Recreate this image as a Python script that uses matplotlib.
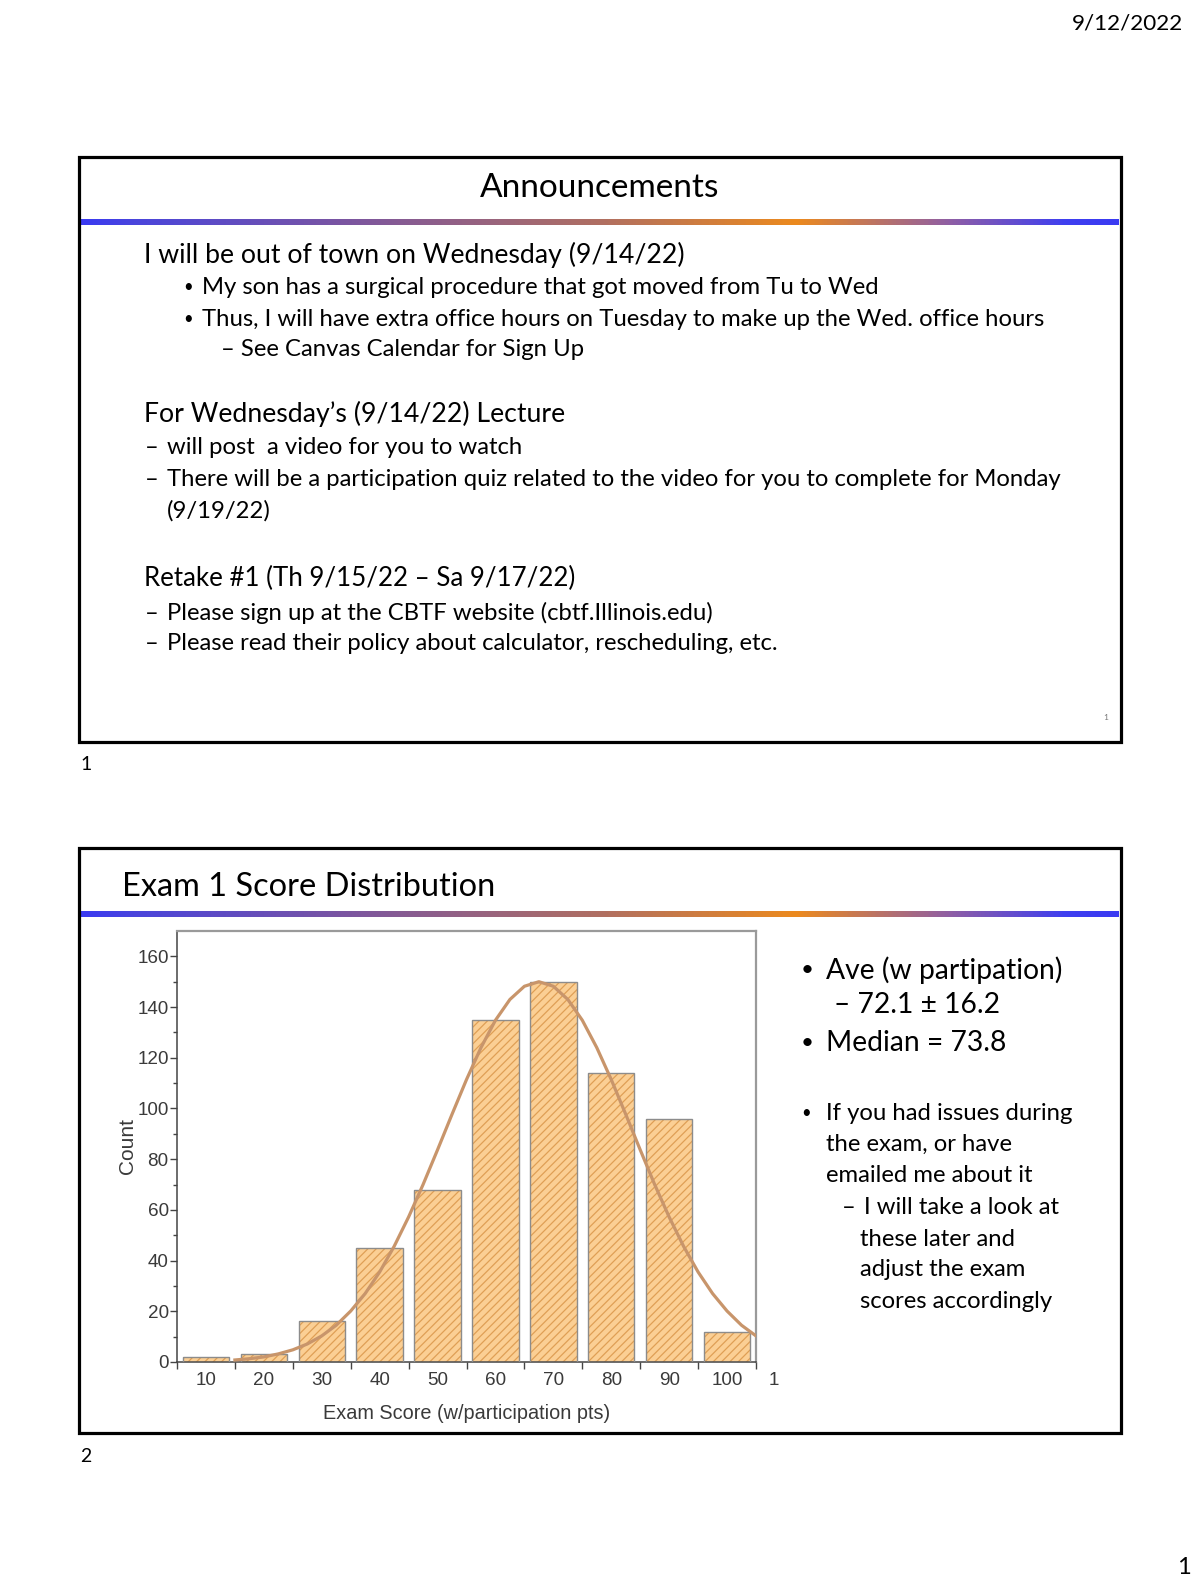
import matplotlib.pyplot as plt
import matplotlib.patches as patches
from matplotlib.colors import LinearSegmentedColormap
import numpy as np

# histogram
score_bins = [10, 20, 30, 40, 50, 60, 70, 80, 90, 100]
counts = [2, 3, 16, 45, 68, 135, 150, 114, 96, 12]

# fitted distribution curve, read every 2.5 pts
fit_x = [15, 17.5, 20, 22.5, 25, 27.5, 30, 32.5, 35, 37.5, 40, 42.5, 45, 47.5,
         50, 52.5, 55, 57.5, 60, 62.5, 65, 67.5, 70, 72.5, 75, 77.5, 80, 82.5,
         85, 87.5, 90, 92.5, 95, 97.5, 100, 102.5, 105]
fit_y = [0.8, 1.3, 2.0, 3.2, 4.8, 7.1, 10.3, 14.5, 20.1, 27.0, 35.5, 45.6, 57.2, 70.0,
         83.7, 97.7, 111.4, 124.0, 134.8, 143.0, 148.2, 150.0, 148.2, 143.0, 134.8, 124.0,
         111.4, 97.7, 83.7, 70.0, 57.2, 45.6, 35.5, 27.0, 20.1, 14.5, 10.3]

y_ticks = [0, 20, 40, 60, 80, 100, 120, 140, 160]

W, H = 1200, 1591
fig = plt.figure(figsize=(12, 15.91), dpi=100)
fig.patch.set_facecolor('white')


def fx(x):
    return x / W


def fy(y):
    return 1 - y / H


def txt(x, y, s, size, ha='left', color='black', family='Lato'):
    fig.text(fx(x), fy(y), s, fontsize=size, ha=ha, va='center',
             color=color, family=family)


def slide_box(x0, y0, x1, y1):
    fig.patches.append(patches.Rectangle((fx(x0), fy(y1)), fx(x1 - x0), (y1 - y0) / H,
                                         transform=fig.transFigure, fill=False,
                                         lw=2.3, ec='black'))


grad = LinearSegmentedColormap.from_list('bar', [
    (0.0, '#3a3af2'), (0.05, '#4a45dc'), (0.25, '#7a55a2'), (0.5, '#b06f62'),
    (0.69, '#ec8a1e'), (0.84, '#8e5ea6'), (0.95, '#3f3ff0'), (1.0, '#3a3af2')])


def grad_bar(x0, x1, y, h=6):
    gax = fig.add_axes([fx(x0), fy(y + h / 2), (x1 - x0) / W, h / H])
    gax.imshow(np.linspace(0, 1, 512)[None, :], aspect='auto', cmap=grad)
    gax.axis('off')


BODY = 17.2
HEAD = 19.2

txt(1183, 24, '9/12/2022', 16.2, ha='right')

# ---- slide 1
slide_box(79, 157, 1121, 742)
txt(600, 188, 'Announcements', 24, ha='center')
grad_bar(81, 1119, 222)

txt(144, 255, 'I will be out of town on Wednesday (9/14/22)', HEAD)
txt(183, 287, '•', 12)
txt(202, 287, 'My son has a surgical procedure that got moved from Tu to Wed', BODY)
txt(183, 319, '•', 12)
txt(202, 319, 'Thus, I will have extra office hours on Tuesday to make up the Wed. office hours', BODY)
txt(221, 350, '– See Canvas Calendar for Sign Up', BODY)

txt(144, 414, 'For Wednesday’s (9/14/22) Lecture', HEAD)
txt(145, 448, '–', BODY)
txt(167, 448, 'will post  a video for you to watch', BODY)
txt(145, 480, '–', BODY)
txt(167, 480, 'There will be a participation quiz related to the video for you to complete for Monday', BODY)
txt(167, 511, '(9/19/22)', BODY)

txt(144, 578, 'Retake #1 (Th 9/15/22 – Sa 9/17/22)', 18.6)
txt(145, 613, '–', BODY)
txt(167, 613, 'Please sign up at the CBTF website (cbtf.Illinois.edu)', BODY)
txt(145, 644, '–', BODY)
txt(167, 644, 'Please read their policy about calculator, rescheduling, etc.', BODY)
txt(1106, 717, '1', 6, ha='center', color='#777777')
txt(80, 765, '1', 14)

# ---- slide 2
slide_box(79, 848, 1121, 1433)
txt(122, 887, 'Exam 1 Score Distribution', 23.4)
grad_bar(81, 1119, 914)

txt(801, 970, '•', 16)
txt(826, 970, 'Ave (w partipation)', 20.3)
txt(834, 1005, '– 72.1 ± 16.2', 20.3)
txt(801, 1043, '•', 16)
txt(826, 1043, 'Median = 73.8', 20.3)
txt(801, 1113, '•', 12)
txt(826, 1113, 'If you had issues during', BODY)
txt(826, 1144, 'the exam, or have', BODY)
txt(826, 1176, 'emailed me about it', BODY)
txt(842, 1207, '–', BODY)
txt(864, 1207, 'I will take a look at', BODY)
txt(860, 1239, 'these later and', BODY)
txt(860, 1270, 'adjust the exam', BODY)
txt(860, 1301, 'scores accordingly', BODY)
txt(80, 1457, '2', 14)
txt(1177, 1568, '1', 17)

# ---- histogram
ax = fig.add_axes([fx(177), fy(1362), (756 - 177) / W, (1362 - 931) / H])
plt.rcParams['hatch.linewidth'] = 0.9
ax.bar(score_bins, counts, width=8, color='#fbcf94', edgecolor='#df9f55',
       hatch='////', lw=0, zorder=2)
ax.bar(score_bins, counts, width=8, fill=False, edgecolor='#8c8c8c', lw=1.0, zorder=3)
ax.plot(fit_x, fit_y, color='#c8956b', lw=2.3, zorder=4)

tick_col = '#3a3a3a'
ax.set_xlim(5, 105)
ax.set_ylim(0, 170)
ax.set_xticks(np.arange(5, 106, 10))
ax.set_xticklabels([])
ax.set_xticks(score_bins, minor=True)
ax.set_xticklabels([str(v) for v in score_bins], minor=True)
ax.tick_params(axis='x', which='major', direction='out', length=5, width=1, color='#444444')
ax.tick_params(axis='x', which='minor', length=0, pad=7, labelsize=13.6, labelcolor=tick_col)
ax.set_yticks(y_ticks)
ax.set_yticks(np.arange(10, 170, 20), minor=True)
ax.tick_params(axis='y', which='major', direction='out', length=5, width=1, color='#444444',
               labelsize=13.6, labelcolor=tick_col, pad=1)
ax.tick_params(axis='y', which='minor', direction='out', length=3, width=1, color='#444444')
for lab in ax.get_xticklabels(minor=True) + ax.get_yticklabels():
    lab.set_family('Liberation Sans')
ax.text(108.1, -0.024, '1', transform=ax.get_xaxis_transform(), ha='center', va='top',
        fontsize=13.6, color=tick_col, family='Liberation Sans', clip_on=False)

for s in ['left', 'bottom']:
    ax.spines[s].set_color('#444444')
    ax.spines[s].set_linewidth(1.1)
for s in ['top', 'right']:
    ax.spines[s].set_color('#9a9a9a')
    ax.spines[s].set_linewidth(1.6)

ax.set_ylabel('Count', fontsize=15, color=tick_col, family='Liberation Sans', labelpad=0)
ax.set_xlabel('Exam Score (w/participation pts)', fontsize=14.3, color=tick_col,
              family='Liberation Sans', labelpad=11)

fig.savefig('out.png', dpi=100)
